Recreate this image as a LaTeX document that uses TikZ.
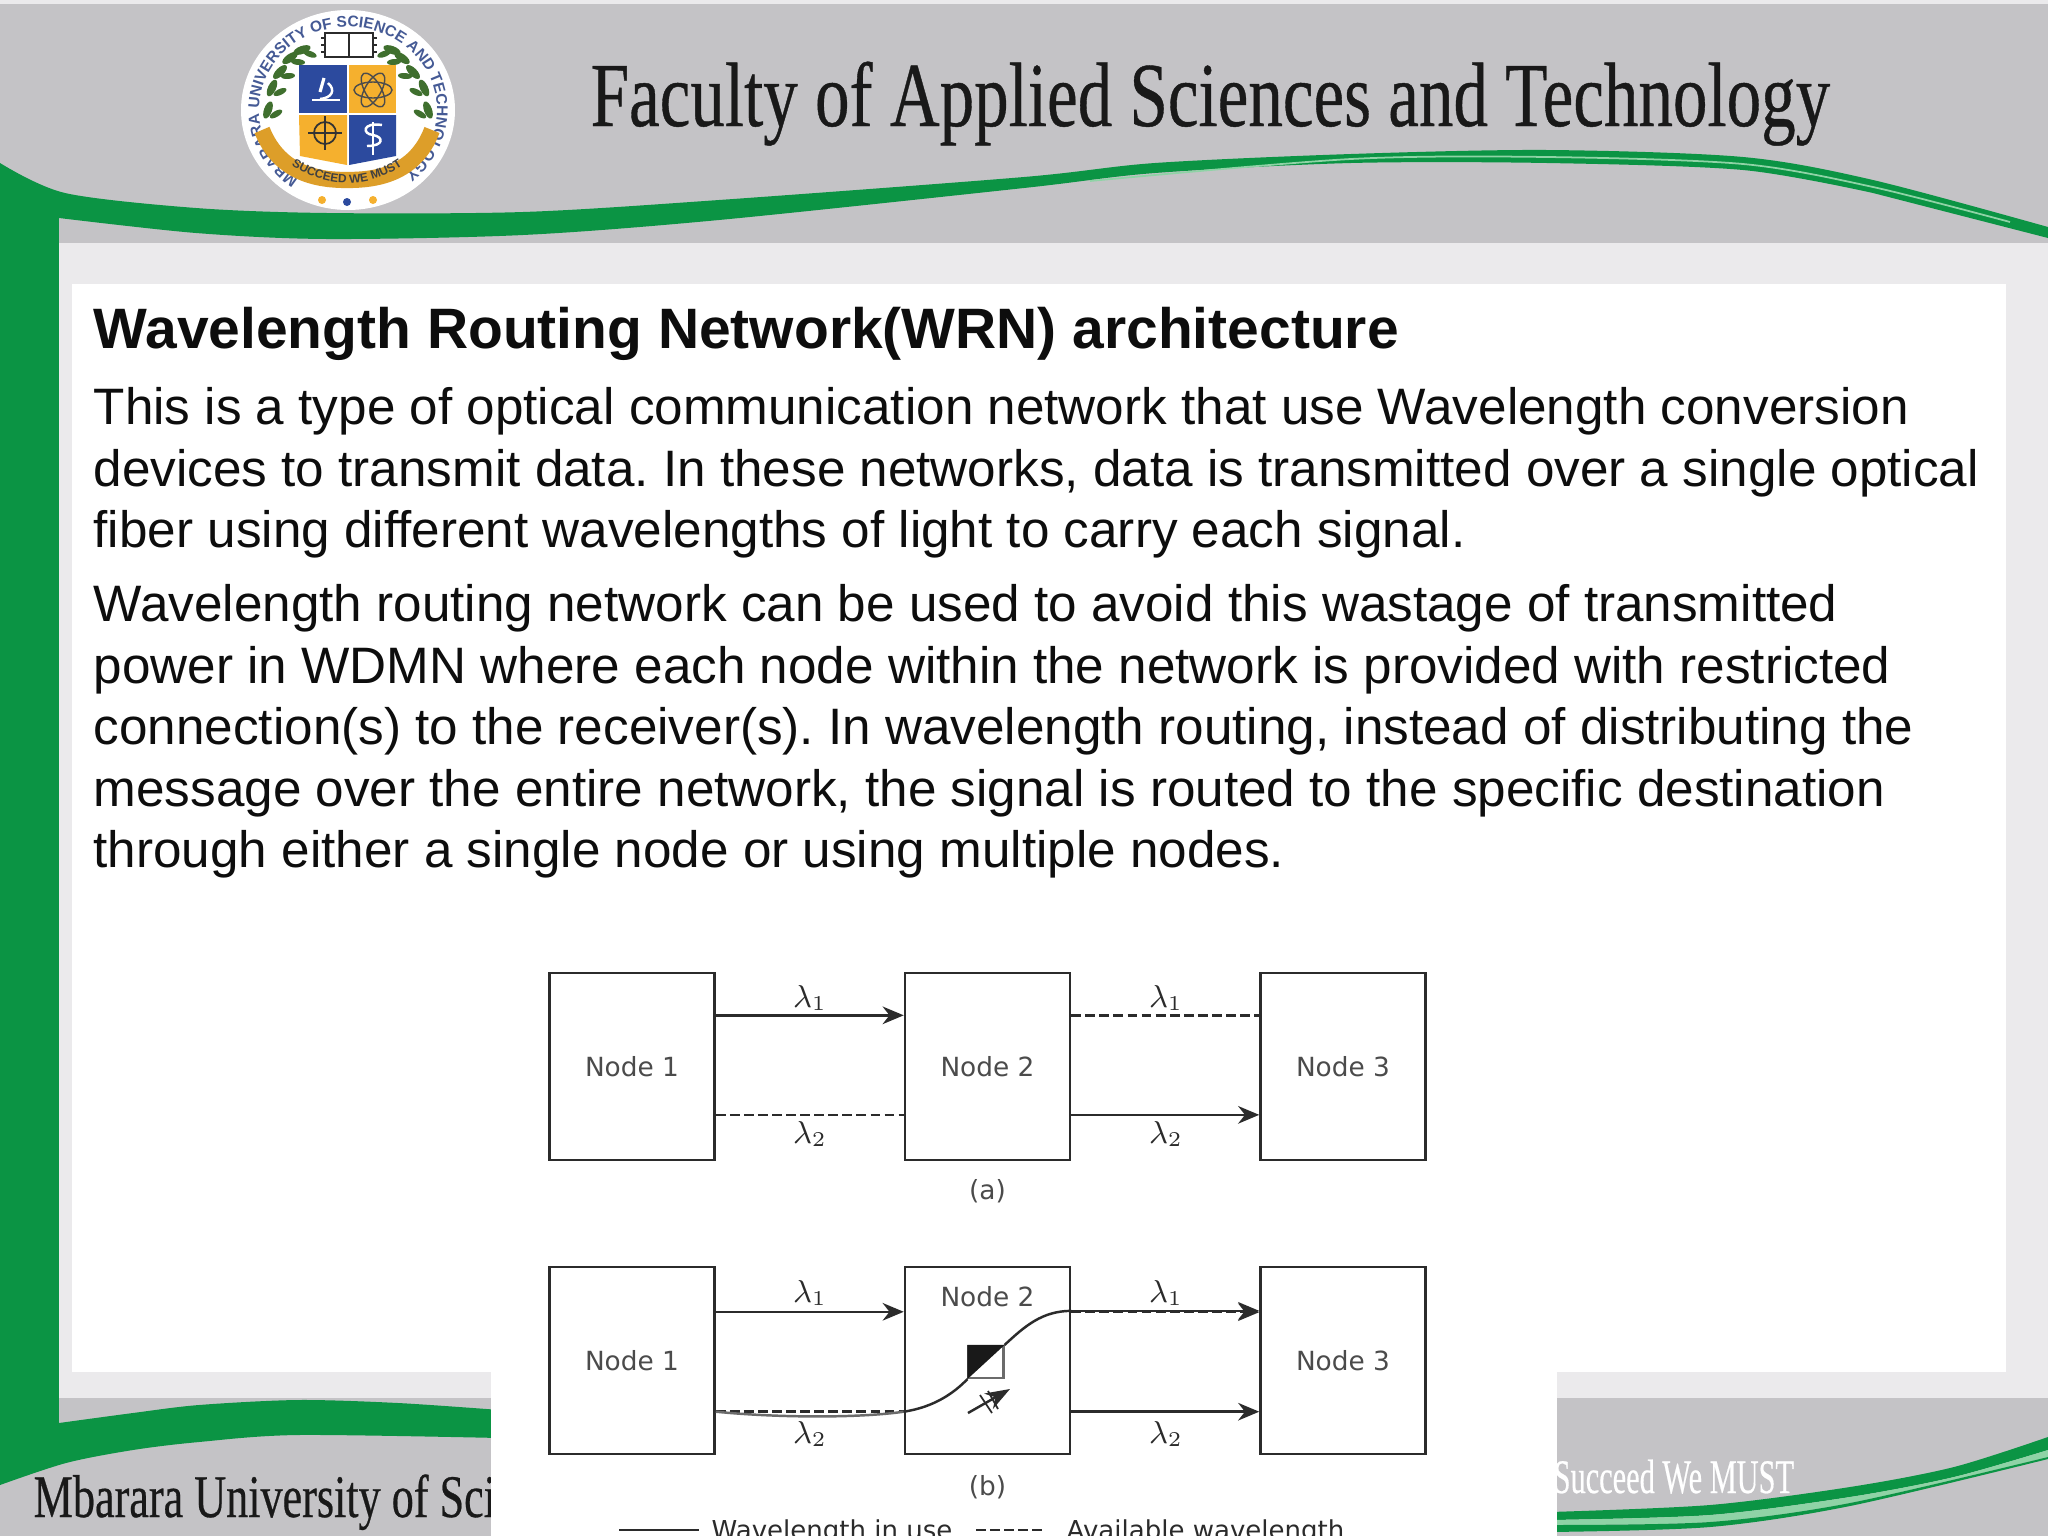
\documentclass[tikz,border=0pt]{standalone}
\usepackage{graphicx}
\usepackage{fontspec}
\setmainfont{Liberation Sans}
\newfontfamily\serifbanner[FakeBold=0.5]{Liberation Serif}
\newfontfamily\diagramfont{DejaVu Sans}
\usetikzlibrary{calc, arrows.meta, decorations.text}
\definecolor{bandgray}{HTML}{C4C3C6}
\definecolor{palegray}{HTML}{EBEAEC}
\definecolor{swoosh}{HTML}{0B9444}
\definecolor{paleswoosh}{HTML}{8FD3A6}
\definecolor{inkline}{HTML}{2B2B2B}
\definecolor{crestblue}{HTML}{2C4A9E}
\definecolor{crestgold}{HTML}{F5B02E}
\definecolor{crestleaf}{HTML}{3F6F2E}
\tikzset{%
	nodebox/.style={draw=inkline, line width=0.7pt, minimum width=1.65cm, minimum height=1.87cm, inner sep=0pt, name=#1},
	nodetext/.style={font=\diagramfont\fontsize{7.5}{9}\selectfont, text=inkline!85!white, inner sep=0pt},
	wavetext/.style={font=\fontsize{9}{10}\selectfont, text=inkline, inner sep=0pt},
	legendtext/.style={font=\diagramfont\fontsize{7.4}{9}\selectfont, text=inkline, inner sep=0pt, anchor=base west},
	bodytext/.style={font=\frenchspacing\fontsize{14.57}{17.47}\selectfont, text=black!95, inner sep=0pt, anchor=north west, align=left},
	inuse/.style={draw=inkline, line width=0.7pt},
	avail/.style={draw=inkline, line width=0.7pt, dash pattern=on 2.8pt off 1.2pt},
	arrowed/.style={-{Stealth[length=6pt, width=5pt]}},
	leaf/.style={fill=crestleaf}
}
\begin{document}
\begin{tikzpicture}[x=0.01cm, y=-0.01cm]
	\path [use as bounding box, clip] (0, 0) rectangle (2048, 1536);
	\fill [palegray] (0, 0) rectangle (2048, 1536);
	\fill [bandgray] (0, 4) rectangle (2048, 243);
	\fill [bandgray] (0, 1398) rectangle (2048, 1536);
	\fill [swoosh] plot [smooth] coordinates {(0, 163) (65, 193) (196, 208) (327, 213) (523, 212) (719, 200) (1024, 177) (1155, 163) (1351, 154) (1547, 150) (1743, 157) (1873, 180) (2048, 227)}
		-- (2048, 238) -- plot [smooth] coordinates {(1873, 193) (1743, 170) (1547, 163) (1351, 163) (1155, 173) (1024, 188) (719, 220) (523, 235) (327, 239) (196, 233) (59, 218)}
		-- (0, 218) -- cycle;
	\draw [paleswoosh, line width=0.5pt] plot [smooth] coordinates {(1090, 181) (1351, 159) (1547, 157) (1743, 164) (1873, 187) (2010, 222)};
	\fill [swoosh] (0, 210) rectangle (59, 1425);
	\fill [swoosh] plot [smooth] coordinates {(59, 1423) (133, 1413) (199, 1405) (298, 1400) (398, 1403) (500, 1410)}
		-- (500, 1438) -- plot [smooth] coordinates {(500, 1438) (298, 1435) (199, 1442) (133, 1450) (66, 1463) (0, 1485)} -- (0, 1415) -- cycle;
	\fill [swoosh] plot [smooth] coordinates {(1550, 1512) (1710, 1505) (1850, 1487) (1954, 1467) (2048, 1437)}
		-- (2048, 1450) -- plot [smooth] coordinates {(2048, 1450) (1954, 1477) (1850, 1497) (1710, 1515) (1550, 1520)} -- cycle;
	\fill [paleswoosh] plot [smooth] coordinates {(1550, 1520) (1710, 1515) (1850, 1497) (1954, 1477) (2048, 1450)}
		-- (2048, 1457) -- plot [smooth] coordinates {(2048, 1457) (1850, 1503) (1710, 1522) (1550, 1525)} -- cycle;
	\fill [swoosh] plot [smooth] coordinates {(1550, 1525) (1710, 1522) (1850, 1503) (2048, 1457)}
		-- (2048, 1459) -- plot [smooth] coordinates {(2048, 1459) (1850, 1506) (1710, 1527) (1550, 1532)} -- cycle;
	\node [font=\serifbanner\fontsize{26}{30}\selectfont, text=black!90, inner sep=0pt, anchor=base west] (banner) at (590, 126) {\scalebox{0.755}[1]{Faculty of Applied Sciences and Technology}};
	\node [font=\serifbanner\fontsize{17.2}{20}\selectfont, text=black!90, inner sep=0pt, anchor=base west] (university) at (33, 1517) {\scalebox{0.73}[1]{Mbarara University of Sci}};
	\node [font=\serifbanner\fontsize{13.7}{16}\selectfont, text=white, inner sep=0pt, anchor=base west] (motto) at (1553, 1493) {\scalebox{0.63}[1]{Succeed We MUST}};
	\fill [white] (72, 284) rectangle (2006, 1372);
	\fill [white] (491, 1372) rectangle (1557, 1536);
	\fill [white] (348, 110) ellipse [x radius=107, y radius=100];
	\path [decorate, decoration={text along path, text align=center, text={|\bfseries\fontsize{4.4}{5}\selectfont\color{crestblue!70!gray}|MBARARA UNIVERSITY OF SCIENCE AND TECHNOLOGY}}] (303.5, 181.9) .. controls (269.3, 163.5) and (252.3, 126.4) .. (261.5, 90.6) .. controls (270.7, 54.8) and (304, 29) .. (343.4, 27.1) .. controls (382.8, 25.2) and (418.7, 47.6) .. (431.9, 82.3) .. controls (445.1, 117) and (432.2, 155.5) .. (400.3, 177.1);
	\draw [inkline, fill=white, line width=0.4pt] (325, 33) rectangle (373, 57);
	\draw [inkline, line width=0.4pt] (349, 33) -- (349, 57);
	\foreach \y in {38, 45, 52} {
		\draw [inkline, line width=0.4pt] (321, \y) -- (325, \y);
		\draw [inkline, line width=0.4pt] (373, \y) -- (377, \y);
	}
	\foreach \x/\y/\a in {268/110/70, 272/88/65, 280/72/45, 290/58/35, 302/50/20} {
		\fill [leaf] (\x, \y) ellipse [x radius=9, y radius=4, rotate=\a];
		\fill [leaf] (\x+8, \y+4) ellipse [x radius=7, y radius=3, rotate=\a-40];
	}
	\foreach \x/\y/\a in {428/110/-70, 424/88/-65, 413/72/-45, 402/58/-35, 392/50/-20} {
		\fill [leaf] (\x, \y) ellipse [x radius=9, y radius=4, rotate=\a];
		\fill [leaf] (\x-8, \y+4) ellipse [x radius=7, y radius=3, rotate=\a+40];
	}
	\draw [crestgold!90!black, line width=4.6pt] (262, 130) .. controls (280, 175) and (320, 180) .. (347, 180) .. controls (375, 180) and (415, 175) .. (432, 130);
	\path [decorate, decoration={text along path, text align=center, text={|\bfseries\fontsize{3.4}{4}\selectfont\color{black!75}|SUCCEED WE MUST}}] (288, 163) .. controls (310, 178) and (330, 183) .. (347, 183) .. controls (365, 183) and (385, 178) .. (406, 163);
	\fill [crestblue] (299, 65) rectangle (347, 113);
	\fill [crestgold] (349, 65) rectangle (396, 113);
	\fill [crestgold] (299, 115) -- (347, 115) -- (347, 165) -- (300, 156) -- cycle;
	\fill [crestblue] (349, 115) -- (396, 115) -- (396, 156) -- (349, 165) -- cycle;
	\draw [white, line width=0.7pt] (312, 100) -- (340, 100);
	\draw [white, line width=0.9pt] (324, 78) -- (320, 92);
	\draw [white, line width=0.7pt] (328, 83) .. controls (336, 90) and (332, 98) .. (320, 99);
	\foreach \a in {0, 60, 120} {
		\draw [black!70, line width=0.4pt] (373, 90) ellipse [x radius=19, y radius=8, rotate=\a];
	}
	\draw [black!80, line width=0.5pt] (325, 133) circle [radius=11];
	\draw [black!80, line width=0.5pt] (325, 116) -- (325, 150);
	\draw [black!80, line width=0.5pt] (308, 133) -- (342, 133);
	\draw [white, line width=0.7pt] (373, 122) -- (373, 155);
	\draw [white, line width=0.7pt] (382, 125) .. controls (362, 122) and (362, 134) .. (373, 135) .. controls (384, 137) and (384, 146) .. (367, 146);
	\fill [crestgold] (322, 200) circle [radius=4];
	\fill [crestblue] (347, 202) circle [radius=4];
	\fill [crestgold] (373, 200) circle [radius=4];
	\node [bodytext, font=\bfseries\fontsize{16.2}{18}\selectfont] (heading) at (93, 307) {Wavelength Routing Network(WRN) architecture};
	\node [bodytext] (parone) at (93, 387) {This is a type of optical communication network that use Wavelength conversion\\devices to transmit data. In these networks, data is transmitted over a single optical\\fiber using different wavelengths of light to carry each signal.};
	\node [bodytext] (partwo) at (93, 584) {Wavelength routing network can be used to avoid this wastage of transmitted\\power in WDMN where each node within the network is provided with restricted\\connection(s) to the receiver(s). In wavelength routing, instead of distributing the\\message over the entire network, the signal is routed to the specific destination\\through either a single node or using multiple nodes.};
	\node [nodebox=a1, nodetext] at (632, 1066.5) {Node 1};
	\node [nodebox=a2, nodetext] at (987.5, 1066.5) {Node 2};
	\node [nodebox=a3, nodetext] at (1343, 1066.5) {Node 3};
	\node [nodebox=b1, nodetext] at (632, 1360.5) {Node 1};
	\node [nodebox=b2] at (987.5, 1360.5) {};
	\node [nodebox=b3, nodetext] at (1343, 1360.5) {Node 3};
	\node [nodetext] (b2label) at (987.5, 1297) {Node 2};
	\draw [inuse, arrowed] ($(a1.north east)!0.23!(a1.south east)$) -- ($(a2.north west)!0.23!(a2.south west)$);
	\draw [avail] ($(a1.north east)!0.755!(a1.south east)$) -- ($(a2.north west)!0.755!(a2.south west)$);
	\draw [avail] ($(a2.north east)!0.23!(a2.south east)$) -- ($(a3.north west)!0.23!(a3.south west)$);
	\draw [inuse, arrowed] ($(a2.north east)!0.755!(a2.south east)$) -- ($(a3.north west)!0.755!(a3.south west)$);
	\node [wavetext] (la1) at (810, 998) {$\lambda_1$};
	\node [wavetext] (la2) at (810, 1134) {$\lambda_2$};
	\node [wavetext] (la3) at (1166, 998) {$\lambda_1$};
	\node [wavetext] (la4) at (1166, 1134) {$\lambda_2$};
	\node [nodetext] (capa) at (987.5, 1191) {(a)};
	\node [draw=inkline!70!white, line width=0.6pt, minimum width=0.35cm, minimum height=0.32cm, inner sep=0pt] (switch) at (986, 1362) {};
	\fill [black!90] (switch.north west) -- (switch.north east) -- (switch.south west) -- cycle;
	\draw [inuse, arrowed] ($(b1.north east)!0.243!(b1.south east)$) -- ($(b2.north west)!0.243!(b2.south west)$);
	\draw [avail] ($(b1.north east)!0.77!(b1.south east)$) -- ($(b2.north west)!0.77!(b2.south west)$);
	\draw [inuse, draw=inkline!70!white] ($(b1.north east)!0.77!(b1.south east)$) .. controls (780, 1418) and (860, 1418) .. ($(b2.north west)!0.77!(b2.south west)$);
	\draw [inuse] ($(b2.north west)!0.77!(b2.south west)$) .. controls (935, 1407) and (955, 1392) .. (switch.south west);
	\draw [inuse] (switch.north east) .. controls (1025, 1326) and (1042, 1311) .. ($(b2.north east)!0.238!(b2.south east)$);
	\draw [inuse, arrowed] ($(b2.north east)!0.238!(b2.south east)$) -- ($(b3.north west)!0.238!(b3.south west)$);
	\draw [avail, arrowed] ($(b2.north east)!0.245!(b2.south east)$) -- ($(b3.north west)!0.245!(b3.south west)$);
	\draw [inuse, arrowed] ($(b2.north east)!0.77!(b2.south east)$) -- ($(b3.north west)!0.77!(b3.south west)$);
	\coordinate (tunea) at (968, 1413);
	\coordinate (tuneb) at (1010, 1389);
	\draw [inuse, -{Stealth[length=7pt, width=5pt]}] (tunea) -- (tuneb);
	\draw [inuse, line width=0.5pt] (980, 1395) -- (992, 1413);
	\draw [inuse, line width=0.5pt] (988, 1391) -- (998, 1409);
	\node [wavetext] (lb1) at (810, 1293) {$\lambda_1$};
	\node [wavetext] (lb2) at (810, 1434) {$\lambda_2$};
	\node [wavetext] (lb3) at (1166, 1293) {$\lambda_1$};
	\node [wavetext] (lb4) at (1166, 1434) {$\lambda_2$};
	\node [nodetext] (capb) at (987.5, 1487) {(b)};
	\coordinate (keya) at (619, 1530);
	\coordinate (keyb) at (699, 1530);
	\coordinate (keyc) at (976, 1530);
	\coordinate (keyd) at (1046, 1530);
	\draw [inuse] (keya) -- (keyb);
	\draw [avail] (keyc) -- (keyd);
	\node [legendtext] (inuselabel) at (711, 1539) {Wavelength in use};
	\node [legendtext] (availlabel) at (1066, 1539) {Available wavelength};
\end{tikzpicture}
\end{document}
